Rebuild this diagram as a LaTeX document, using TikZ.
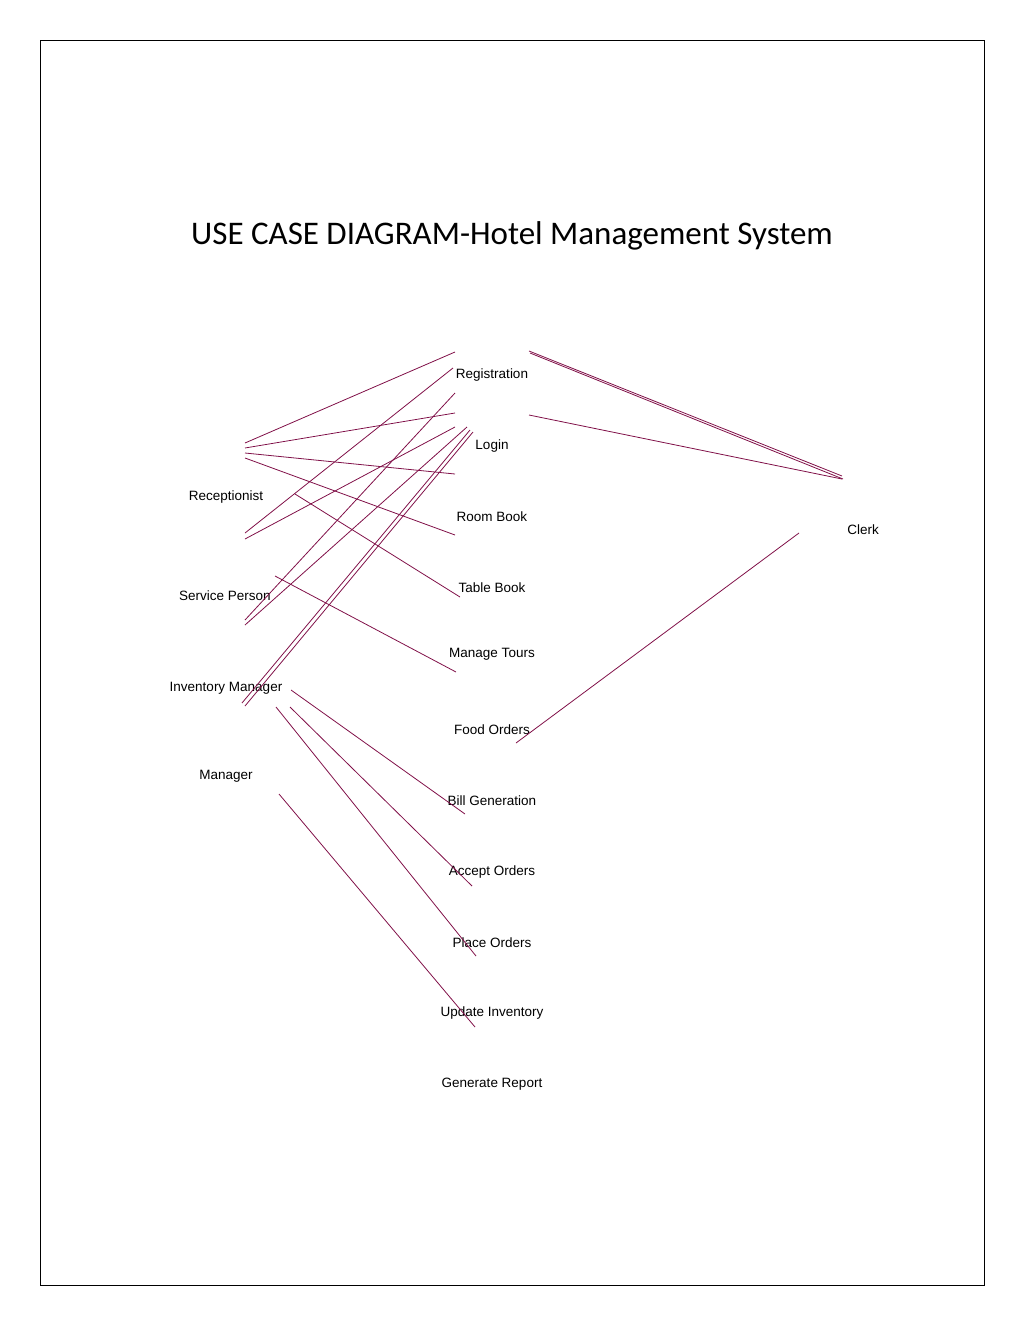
\documentclass[tikz,border=0pt]{standalone}
\usepackage{fontspec}
\setmainfont{Liberation Sans}
\newfontfamily\titlefont{Carlito}
\usetikzlibrary{positioning}
\definecolor{linkred}{RGB}{128,16,72}
\tikzset{
  label/.style={inner sep=0pt, font=\fontsize{13.5}{15}\selectfont},
  link/.style={draw=linkred, line width=0.8pt}
}
\begin{document}
\begin{tikzpicture}[x=1pt,y=-1pt]
\useasboundingbox (0,0) rectangle (1024,1326);
\draw[line width=0.6pt] (40,40) rectangle (984,1285);
\node[inner sep=0pt, font=\titlefont\fontsize{33}{36}\selectfont] (title) at (512,236) {USE CASE DIAGRAM-Hotel Management System};
% use cases
\node[label] (reg) at (492,375) {Registration};
\node[label] (login) at (492,446) {Login};
\node[label] (room) at (492,517) {Room Book};
\node[label] (table) at (492,588) {Table Book};
\node[label] (tours) at (492,654) {Manage Tours};
\node[label] (food) at (492,730) {Food Orders};
\node[label] (bill) at (492,801) {Bill Generation};
\node[label] (accept) at (492,872) {Accept Orders};
\node[label] (place) at (492,943) {Place Orders};
\node[label] (update) at (492,1013) {Update Inventory};
\node[label] (report) at (492,1084) {Generate Report};
% actors
\node[label] (recep) at (226,497) {Receptionist};
\node[label] (service) at (225,596) {Service Person};
\node[label] (inv) at (226,688) {Inventory Manager};
\node[label] (mgr) at (226,776) {Manager};
\node[label] (clerk) at (863,530) {Clerk};
% associations
\foreach \a/\b in {
  {(245,443)}/{(455,352)}, {(245,448)}/{(455,413)}, {(245,453)}/{(455,474)},
  {(245,458)}/{(455,535)}, {(295,494)}/{(460,597)}, {(245,533)}/{(453,368)},
  {(245,539)}/{(455,427)}, {(245,620)}/{(455,393)}, {(245,625)}/{(467,427)},
  {(275,576)}/{(456,672)}, {(242,703)}/{(470,430)}, {(245,706)}/{(473,432)},
  {(291,690)}/{(465,814)}, {(290,707)}/{(472,886)}, {(276,707)}/{(476,956)},
  {(279,794)}/{(475,1027)}, {(529,351)}/{(842,476)}, {(530,353)}/{(843,479)},
  {(529,415)}/{(842,479)}, {(799,533)}/{(516,743)}}
  \draw[link] \a -- \b;
\end{tikzpicture}
\end{document}
